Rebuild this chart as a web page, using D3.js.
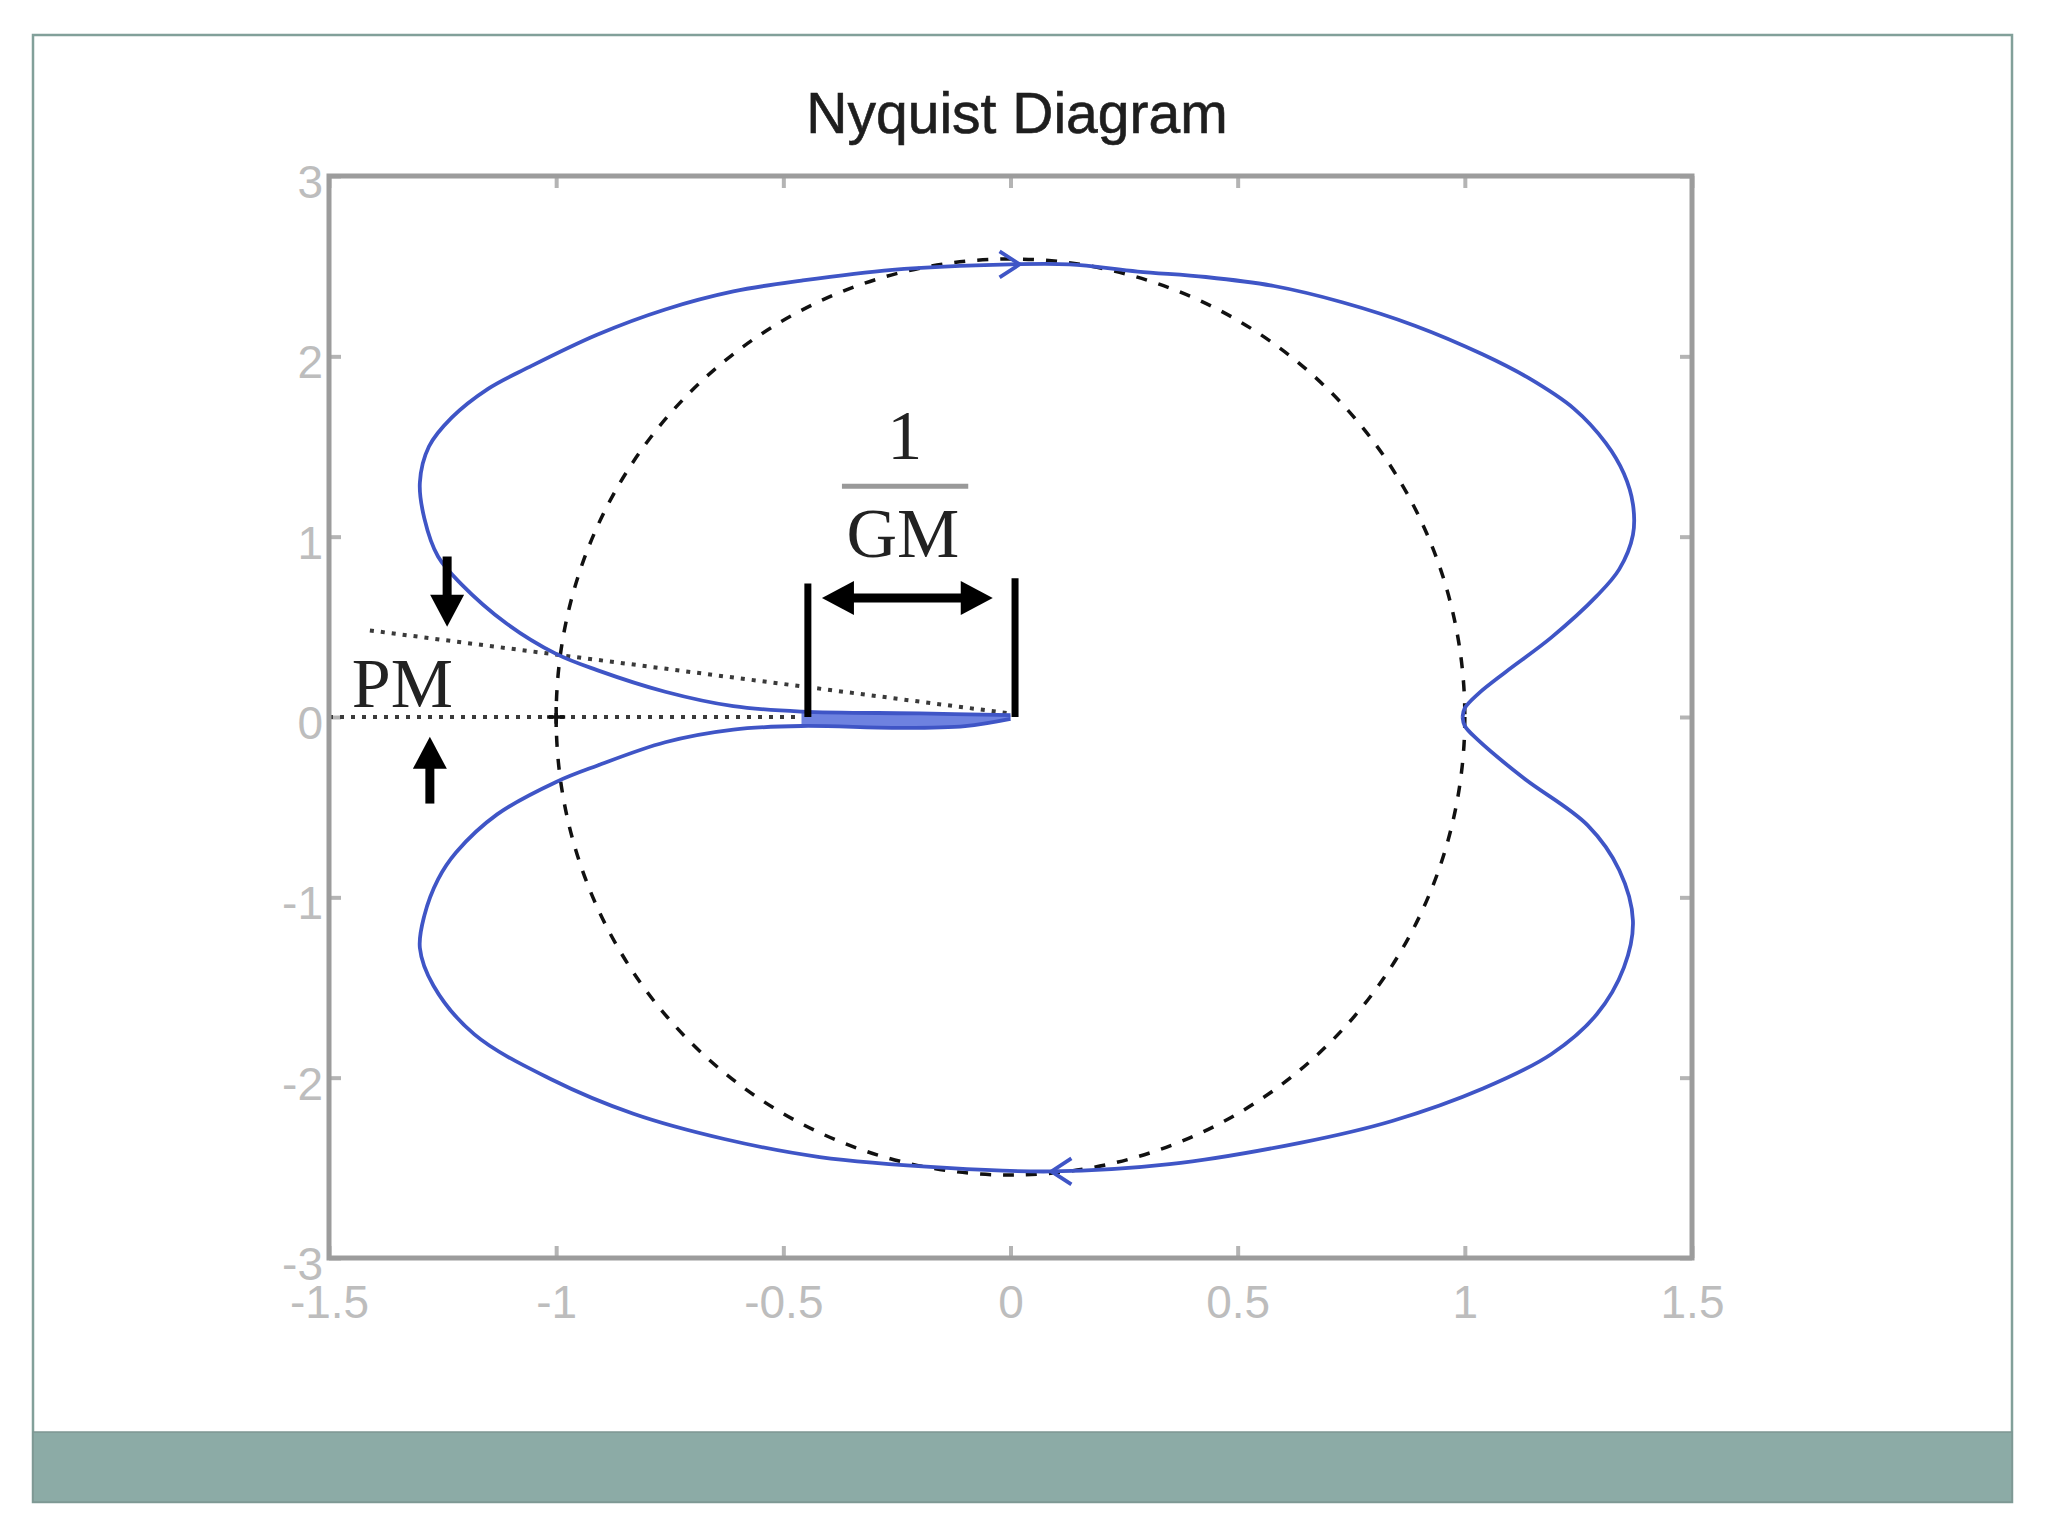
<!DOCTYPE html>
<html>
<head>
<meta charset="utf-8">
<script src="https://cdn.jsdelivr.net/npm/d3@7"></script>
<style>
  body { margin: 0; background: #fff; }
</style>
</head>
<body>
<div id="chart"></div>
<script>
// Page size
const WIDTH = 2048;
const HEIGHT = 1536;

// Axis ticks
const xTicks = [-1.5, -1, -0.5, 0, 0.5, 1, 1.5];
const xTickLabels = ["-1.5", "-1", "-0.5", "0", "0.5", "1", "1.5"];
const yTicks = [-3, -2, -1, 0, 1, 2, 3];
const yTickLabels = ["-3", "-2", "-1", "0", "1", "2", "3"];

// Nyquist curve, upper branch, origin -> left lobe -> top -> right lobe -> (1,0)
const upperBranch = [
  [0.00, 0.01], [-0.20, 0.02], [-0.46, 0.03], [-0.61, 0.06], [-0.76, 0.14],
  [-0.91, 0.26], [-1.00, 0.35], [-1.11, 0.52], [-1.21, 0.74], [-1.26, 0.89],
  [-1.29, 1.10], [-1.30, 1.30], [-1.28, 1.50], [-1.23, 1.66], [-1.15, 1.82],
  [-1.06, 1.94], [-0.91, 2.12], [-0.76, 2.26], [-0.61, 2.36], [-0.46, 2.42],
  [-0.26, 2.48], [0.00, 2.51], [0.13, 2.51], [0.28, 2.47], [0.43, 2.44],
  [0.58, 2.39], [0.73, 2.30], [0.89, 2.17], [1.04, 2.01], [1.14, 1.88],
  [1.24, 1.71], [1.31, 1.52], [1.35, 1.35], [1.37, 1.18], [1.37, 1.01],
  [1.34, 0.82], [1.29, 0.67], [1.19, 0.44], [1.09, 0.25], [1.03, 0.13],
  [1.00, 0.05], [0.995, 0.0]
];

// Nyquist curve, lower branch
const lowerBranch = [
  [0.00, -0.01], [-0.10, -0.05], [-0.25, -0.06], [-0.46, -0.05], [-0.61, -0.07], [-0.76, -0.14],
  [-0.91, -0.27], [-1.00, -0.36], [-1.13, -0.54], [-1.22, -0.75], [-1.26, -0.90],
  [-1.29, -1.10], [-1.30, -1.28], [-1.27, -1.49], [-1.18, -1.76], [-1.01, -2.01],
  [-0.83, -2.20], [-0.63, -2.34], [-0.42, -2.44], [-0.14, -2.50], [0.09, -2.52],
  [0.35, -2.48], [0.64, -2.36], [0.84, -2.24], [1.04, -2.06], [1.19, -1.87],
  [1.29, -1.65], [1.35, -1.39], [1.37, -1.13], [1.34, -0.85], [1.27, -0.60],
  [1.13, -0.34], [1.03, -0.13], [1.00, -0.05], [0.995, 0.0]
];

// direction arrows on the curve: [x, y, dir]  (dir 1 = pointing right)
const flowArrows = [[0.02, 2.51, 1], [0.09, -2.52, -1]];

// dashed reference circle (unit circle as drawn): center and radii in data units
const circleCenter = [0, 0];
const circleRadii = [1, 2.54];

// dotted lines [x1, y1, x2, y2]
const dottedLines = [
  [-1.5, 0, 0, 0],
  [-1.41, 0.48, 0, 0.02]
];

// critical point marker
const criticalPoint = [-1, 0];

// gain margin bars [x, yBottom, yTop]
const gmBars = [[-0.446, 0, 0.74], [0.01, 0, 0.77]];

// black annotation arrows [x1, y1, x2, y2, heads]  heads: 1 = at end, 2 = both ends
const annoArrows = [
  [-1.24, 0.89, -1.24, 0.50, 1],
  [-1.278, -0.48, -1.278, -0.11, 1],
  [-0.415, 0.66, -0.039, 0.66, 2]
];

// labels [text, x, y, anchor]
const annoLabels = [
  ["PM", -1.45, 0.055, "start"],
  ["1", -0.233, 1.43, "middle"],
  ["GM", -0.237, 0.89, "middle"]
];
const fractionBar = [-0.371, -0.093, 1.28];

const sans = "'Liberation Sans', Arial, Helvetica, sans-serif";
const serif = "'Liberation Serif', 'Times New Roman', Times, serif";

const svg = d3.select("#chart").append("svg")
  .attr("width", WIDTH)
  .attr("height", HEIGHT);

// slide frame and bottom band
svg.append("rect")
  .attr("x", 33).attr("y", 35)
  .attr("width", 1979).attr("height", 1467)
  .attr("fill", "#fff")
  .attr("stroke", "#82a09a")
  .attr("stroke-width", 2.5);

svg.append("rect")
  .attr("x", 33).attr("y", 1432)
  .attr("width", 1979).attr("height", 70)
  .attr("fill", "#8cabA6")
  .attr("stroke", "#7e9793")
  .attr("stroke-width", 1.5);

// scales
const x = d3.scaleLinear().domain([-1.5, 1.5]).range([329, 1692]);
const y = d3.scaleLinear().domain([-3, 3]).range([1258, 176]);

// title
svg.append("text")
  .attr("x", 1017)
  .attr("y", 133)
  .attr("text-anchor", "middle")
  .attr("font-family", sans)
  .attr("font-size", 57)
  .attr("fill", "#1e1e1e")
  .attr("stroke", "#1e1e1e")
  .attr("stroke-width", 0.6)
  .text("Nyquist Diagram");

// axes, ticks pointing inward
function styleAxis(g) {
  g.select(".domain").remove();
  g.selectAll(".tick line").attr("stroke", "#b4b4b4").attr("stroke-width", 4);
  g.selectAll(".tick text")
    .attr("fill", "#bdbdbd")
    .attr("font-family", sans)
    .attr("font-size", 46);
}

svg.append("g")
  .attr("transform", `translate(0,${y(-3)})`)
  .call(d3.axisBottom(x).tickValues(xTicks)
    .tickFormat((d, i) => xTickLabels[i])
    .tickSizeInner(-12).tickSizeOuter(0).tickPadding(27))
  .call(styleAxis);

svg.append("g")
  .attr("transform", `translate(0,${y(3)})`)
  .call(d3.axisTop(x).tickValues(xTicks).tickFormat("")
    .tickSizeInner(-12).tickSizeOuter(0))
  .call(styleAxis);

svg.append("g")
  .attr("transform", `translate(${x(-1.5)},0)`)
  .call(d3.axisLeft(y).tickValues(yTicks)
    .tickFormat((d, i) => yTickLabels[i])
    .tickSizeInner(-12).tickSizeOuter(0).tickPadding(6))
  .call(styleAxis)
  .call(g => g.selectAll(".tick text").attr("dy", "0.47em"));

svg.append("g")
  .attr("transform", `translate(${x(1.5)},0)`)
  .call(d3.axisRight(y).tickValues(yTicks).tickFormat("")
    .tickSizeInner(-12).tickSizeOuter(0))
  .call(styleAxis);

const plot = svg.append("g");

// dotted lines
plot.selectAll(".dotted")
  .data(dottedLines)
  .join("line")
  .attr("class", "dotted")
  .attr("x1", d => x(d[0])).attr("y1", d => y(d[1]))
  .attr("x2", d => x(d[2])).attr("y2", d => y(d[3]))
  .attr("stroke", "#3a3a3a")
  .attr("stroke-width", 4)
  .attr("stroke-dasharray", "4,7");

// dashed circle
plot.append("ellipse")
  .attr("cx", x(circleCenter[0]))
  .attr("cy", y(circleCenter[1]))
  .attr("rx", x(circleRadii[0]) - x(0))
  .attr("ry", y(0) - y(circleRadii[1]))
  .attr("fill", "none")
  .attr("stroke", "#111")
  .attr("stroke-width", 3.5)
  .attr("stroke-dasharray", "11,12");

// critical point "+"
const cpx = x(criticalPoint[0]), cpy = y(criticalPoint[1]);
plot.append("path")
  .attr("d", `M${cpx - 9},${cpy}H${cpx + 9}M${cpx},${cpy - 10}V${cpy + 10}`)
  .attr("stroke", "#111")
  .attr("stroke-width", 3.5);

// Nyquist curve
const line = d3.line()
  .x(d => x(d[0]))
  .y(d => y(d[1]))
  .curve(d3.curveCatmullRom.alpha(0.5));

const blue = "#3f55c6";

// thin blue lens where both branches run into the origin
const lens = upperBranch.slice(0, 3).concat(lowerBranch.slice(0, 4).reverse());
plot.append("path")
  .attr("d", d3.line().x(d => x(d[0])).y(d => y(d[1]))(lens) + "Z")
  .attr("fill", "#6e82e0")
  .attr("stroke", "none");

plot.selectAll(".branch")
  .data([upperBranch, lowerBranch])
  .join("path")
  .attr("class", "branch")
  .attr("d", line)
  .attr("fill", "none")
  .attr("stroke", blue)
  .attr("stroke-width", 3.8)
  .attr("stroke-linejoin", "round");

// flow direction arrows (open V)
flowArrows.forEach(([ax, ay, dir]) => {
  const tx = x(ax), ty = y(ay);
  const len = 20, spread = 13;
  plot.append("path")
    .attr("d", `M${tx - dir * len},${ty - spread}L${tx},${ty}L${tx - dir * len},${ty + spread}`)
    .attr("fill", "none")
    .attr("stroke", blue)
    .attr("stroke-width", 3.8);
});

// gain margin bars
plot.selectAll(".gmbar")
  .data(gmBars)
  .join("line")
  .attr("class", "gmbar")
  .attr("x1", d => x(d[0])).attr("x2", d => x(d[0]))
  .attr("y1", d => y(d[1])).attr("y2", d => y(d[2]))
  .attr("stroke", "#000")
  .attr("stroke-width", 7);

// black arrows
function head(tx, ty, ux, uy) {
  const len = 32, half = 17;
  const bx = tx - ux * len, by = ty - uy * len;
  plot.append("path")
    .attr("d", `M${tx},${ty}L${bx - uy * half},${by + ux * half}L${bx + uy * half},${by - ux * half}Z`)
    .attr("fill", "#000");
}

annoArrows.forEach(([x1, y1, x2, y2, heads]) => {
  const px1 = x(x1), py1 = y(y1), px2 = x(x2), py2 = y(y2);
  const L = Math.hypot(px2 - px1, py2 - py1);
  const ux = (px2 - px1) / L, uy = (py2 - py1) / L;
  const s = heads === 2 ? 20 : 0;
  plot.append("line")
    .attr("x1", px1 + ux * s).attr("y1", py1 + uy * s)
    .attr("x2", px2 - ux * 20).attr("y2", py2 - uy * 20)
    .attr("stroke", "#000")
    .attr("stroke-width", 9);
  head(px2, py2, ux, uy);
  if (heads === 2) head(px1, py1, -ux, -uy);
});

// labels
plot.selectAll(".anno")
  .data(annoLabels)
  .join("text")
  .attr("class", "anno")
  .attr("x", d => x(d[1]))
  .attr("y", d => y(d[2]))
  .attr("text-anchor", d => d[3])
  .attr("font-family", serif)
  .attr("font-size", 70)
  .attr("fill", "#222")
  .text(d => d[0]);

plot.append("line")
  .attr("x1", x(fractionBar[0])).attr("x2", x(fractionBar[1]))
  .attr("y1", y(fractionBar[2])).attr("y2", y(fractionBar[2]))
  .attr("stroke", "#999")
  .attr("stroke-width", 5);

// axes box on top
svg.append("rect")
  .attr("x", x(-1.5)).attr("y", y(3))
  .attr("width", x(1.5) - x(-1.5))
  .attr("height", y(-3) - y(3))
  .attr("fill", "none")
  .attr("stroke", "#9c9c9c")
  .attr("stroke-width", 5);
</script>
</body>
</html>
